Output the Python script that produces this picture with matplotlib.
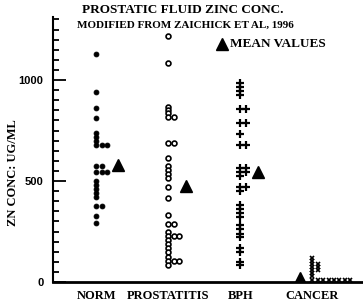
import matplotlib
matplotlib.use("Agg")
import matplotlib.pyplot as plt
import numpy as np
from collections import Counter

categories = ["NORM", "PROSTATITIS", "BPH", "CANCER"]

norm_vals = [1130, 940, 860, 810, 740, 720, 700, 680, 680, 680, 575, 575,
             545, 545, 545, 500, 480, 460, 440, 420, 375, 375, 325, 290]
prostatitis_vals = [1220, 1085, 865, 850, 835, 815, 815, 690, 690, 615, 575,
                    555, 535, 515, 470, 415, 330, 285, 285, 250, 230, 230, 230,
                    210, 190, 170, 150, 125, 105, 105, 105, 85]
bph_vals = [985, 965, 945, 925, 855, 855, 785, 785, 735, 680, 680, 565, 565,
            545, 545, 525, 470, 470, 450, 380, 360, 340, 320, 280, 260, 240,
            225, 170, 150, 100, 85]
cancer_vals = [120, 105, 90, 90, 75, 75, 60, 60, 45, 30, 10, 10, 10, 10, 10,
               10, 10, 10]
mean_vals = [580, 475, 545, 20]

yticks = [0, 500, 1000]

# ---- layout / style ----
DX = 0.075
mean_offsets = [0.30, 0.24, 0.25, -0.17]
serif = ["Liberation Serif", "DejaVu Serif"]

fig = plt.figure(figsize=(3.63, 3.03), dpi=100)
ax = fig.add_axes([53/363, 1-282/303, 309/363, 265/303])


def spread(vals, center):
    seen = Counter()
    xs = []
    for v in vals:
        xs.append(center + seen[v] * DX)
        seen[v] += 1
    return np.array(xs), np.array(vals)


x, y = spread(norm_vals, 0)
ax.plot(x, y, 'o', ms=3.5, mfc='black', mec='black', mew=0.6)
x, y = spread(prostatitis_vals, 1)
ax.plot(x, y, 'o', ms=3.5, mfc='white', mec='black', mew=1.2)
x, y = spread(bph_vals, 2)
ax.plot(x, y, '+', ms=5.5, mec='black', mew=1.6)
x, y = spread(cancer_vals, 3)
ax.plot(x, y, 'x', ms=2.8, mec='black', mew=1.2)

mx = [i + o for i, o in zip(range(len(categories)), mean_offsets)]
ax.plot(mx, mean_vals, '^', ms=8, color='black', ls='none')

ax.set_xlim(-0.6, 3.69)
ax.set_ylim(0, 1312)
ax.set_yticks(yticks)
ax.set_yticks(np.arange(0, 1301, 50), minor=True)
ax.tick_params(axis='y', which='major', direction='in', length=9, width=1.3,
               pad=7)
ax.tick_params(axis='y', which='minor', direction='in', length=4, width=1.3)
ax.set_yticklabels([str(t) for t in yticks], family="Liberation Sans",
                   fontweight='bold', fontsize=8)
ax.set_xticks(range(len(categories)))
ax.set_xticklabels(categories, family=serif, fontweight='bold', fontsize=9)
ax.tick_params(axis='x', length=0, pad=6)
for s in ['top', 'right']:
    ax.spines[s].set_visible(False)
ax.spines['left'].set_linewidth(1.5)
ax.spines['bottom'].set_linewidth(2)

fig.text(0.036, 1-173/303, "ZN CONC: UG/ML", rotation=90, ha='center',
         va='center', family=serif, fontweight='bold', fontsize=9)
fig.text(183/363, 1-10/303, "PROSTATIC FLUID ZINC CONC.", ha='center',
         va='center', family=serif, fontweight='bold', fontsize=9.5)
fig.text(185/363, 1-25/303, "MODIFIED FROM ZAICHICK ET AL, 1996", ha='center',
         va='center', family=serif, fontweight='bold', fontsize=8)
ax.plot([0.548], [0.898], '^', ms=8, color='black', transform=ax.transAxes,
        clip_on=False)
ax.text(0.572, 0.898, "MEAN VALUES", transform=ax.transAxes, ha='left',
        va='center', family=serif, fontweight='bold', fontsize=9.5)

fig.savefig("out.png", dpi=100)
